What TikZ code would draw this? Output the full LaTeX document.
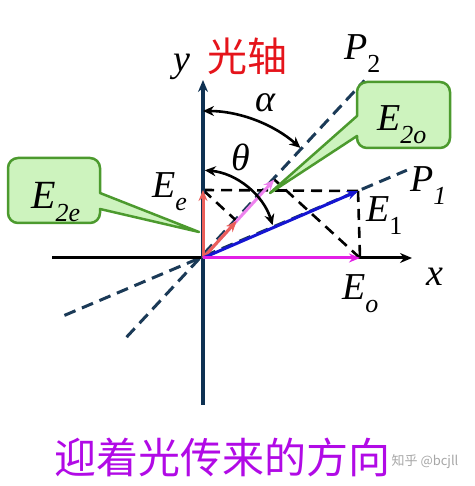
\documentclass[tikz,border=0pt]{standalone}
\usepackage{fontspec}
\setmainfont{Liberation Serif}
\newfontfamily\cjk{Noto Sans CJK SC}
\usetikzlibrary{arrows.meta,calc}
\definecolor{navy}{HTML}{0E3152}
\definecolor{dnavy}{HTML}{1B3A57}
\definecolor{mag}{HTML}{E21FE6}
\definecolor{pinkv}{HTML}{EE82EE}
\definecolor{redv}{HTML}{EA5F5A}
\definecolor{bluev}{HTML}{1515D2}
\definecolor{gfill}{HTML}{CDF3BE}
\definecolor{gline}{HTML}{4C9A2E}
\definecolor{purp}{HTML}{B10AE6}
\definecolor{redt}{HTML}{E5141B}
\newcommand{\sbx}[1]{\raisebox{-0.32em}{\fontsize{26pt}{26pt}\selectfont #1}}
\newcommand{\labsize}{\fontsize{38pt}{40pt}\selectfont}
\begin{document}
\begin{tikzpicture}[x=1pt,y=1pt,
  lab/.style={inner sep=0pt,font=\labsize\itshape},
  vec/.style={line width=3pt,-{Stealth[length=11pt,width=9pt]}},
  dline/.style={line width=3pt,dnavy,dash pattern=on 12pt off 7pt},
  hline/.style={line width=2.6pt,black,dash pattern=on 11pt off 7pt},
  arcarrow/.style={line width=2.6pt,black,{Stealth[length=11pt,width=10pt]}-{Stealth[length=11pt,width=10pt]}},
  callout/.style={line width=2.5pt,draw=gline,fill=gfill,line join=round}]
\useasboundingbox (0,0) rectangle (474,486);
% key points
\coordinate (O) at (203,228);
\coordinate (Ytop) at (203,406);
\coordinate (Ybot) at (203,81);
\coordinate (Xl) at (52,228);
\coordinate (Xr) at (412,228);
\coordinate (Eo) at (360,228);
\coordinate (E1) at (358,295);
\coordinate (Ee) at (203,296);
\coordinate (Kp) at ($(O)+(47.7:106)$);
\coordinate (Rd) at ($(O)+(47.7:50)$);
\coordinate (P1a) at ($(O)+(202.5:150)$);
\coordinate (P1b) at ($(O)+(23.3:222)$);
\coordinate (P2a) at ($(O)+(226:110)$);
\coordinate (P2b) at ($(O)+(47.7:240)$);
% optical axes P1, P2
\draw[dline] (P1a) -- (P1b);
\draw[dline] (P2a) -- (P2b);
% helper dashed lines
\draw[hline] (Ee) -- (E1);
\draw[hline] (E1) -- (Eo);
\draw[hline] (Ee) -- (Rd);
\draw[hline] (Eo) -- (Kp);
% axes
\draw[line width=3pt,-{Stealth[length=12pt,width=10pt]}] (Xl) -- (Xr);
\draw[line width=3.4pt,navy,-{Stealth[length=12pt,width=10pt]}] (Ybot) -- (Ytop);
% vectors
\draw[vec,pinkv] (O) -- (Kp);
\draw[vec,redv] (O) -- (Rd);
\draw[vec,redv] (O) -- (Ee);
\draw[vec,bluev] (O) -- (E1);
\draw[vec,mag] (O) -- (Eo);
% angle arcs
\draw[arcarrow] ($(O)+(90:147)$) arc[start angle=90,end angle=48.5,radius=147pt];
\coordinate (C) at (198,238);
\draw[arcarrow] ($(C)+(85:78)$) arc[start angle=85,end angle=17,radius=78pt];
% labels
\node[lab] (ylab) at (182,419) {y};
\node[inner sep=0pt,text=redt,font=\fontsize{40pt}{42pt}\selectfont\cjk] (axis) at (247,430) {光轴};
\node[lab,anchor=base west] (p2) at (344,426) {P\sbx{\upshape 2}};
\node[lab,anchor=base west] (p1) at (410,294) {P\sbx{1}};
\node[lab,anchor=base west] (e1) at (366,264) {E\sbx{\upshape 1}};
\node[lab,anchor=base west] (eo) at (342,186) {E\sbx{o}};
\node[lab,anchor=base west] (ee) at (152,288) {E\sbx{e}};
\node[lab] (xlab) at (435,209) {x};
\node[lab] (th) at (241,329) {θ};
\node[lab] (al) at (265,383) {α};
% callouts
\draw[callout] (367,404) -- (440,404) arc[start angle=90,end angle=0,radius=10pt]
  -- (450,348) arc[start angle=0,end angle=-90,radius=10pt]
  -- (367,338) arc[start angle=270,end angle=180,radius=10pt]
  -- (357,350) -- (270,293) -- (357,370) -- (357,394)
  arc[start angle=180,end angle=90,radius=10pt] -- cycle;
\node[lab,anchor=base west] (e2o) at (377,355) {E\sbx{2o}};
\draw[callout] (18,328) -- (90,328) arc[start angle=90,end angle=0,radius=10pt]
  -- (100,293) -- (199,254) -- (100,277) -- (100,273)
  arc[start angle=0,end angle=-90,radius=10pt]
  -- (18,263) arc[start angle=270,end angle=180,radius=10pt]
  -- (8,318) arc[start angle=180,end angle=90,radius=10pt] -- cycle;
\node[lab,anchor=base west,font=\fontsize{40pt}{42pt}\selectfont\itshape] (e2e) at (31,277) {E\sbx{2e}};
% bottom caption
\node[inner sep=0pt,text=purp,font=\fontsize{42pt}{44pt}\selectfont\cjk] (cap) at (222,29) {迎着光传来的方向};
\node[inner sep=0pt,text=gray!70,font=\fontsize{13pt}{14pt}\selectfont\cjk] (wm) at (425,24) {知乎 @bcjll};
\end{tikzpicture}
\end{document}
